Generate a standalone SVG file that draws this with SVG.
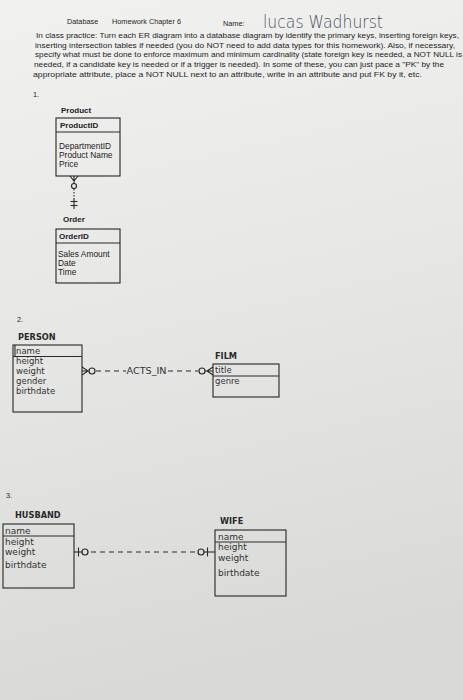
<svg xmlns="http://www.w3.org/2000/svg" width="463" height="700" viewBox="0 0 463 700">
<defs>
<linearGradient id="paper" x1="0" y1="0" x2="0.15" y2="1">
<stop offset="0" stop-color="#f1f1ef"/>
<stop offset="0.5" stop-color="#e6e6e4"/>
<stop offset="1" stop-color="#d9d9d7"/>
</linearGradient>
<style>
.hd{font-family:"Liberation Sans",Arial,sans-serif;font-size:7.3px;fill:#1f1f1f}
.hand{font-family:"DejaVu Sans",sans-serif;font-weight:200;font-size:17px;fill:#4b5060}
.box{fill:none;stroke:#262626;stroke-width:1.1}
.t1{font-family:"Liberation Sans",Arial,sans-serif;font-size:8.4px;fill:#222}
.t1b{font-family:"Liberation Sans",Arial,sans-serif;font-size:8px;font-weight:bold;fill:#222}
.t2{font-family:"DejaVu Sans",Verdana,sans-serif;font-size:8.5px;fill:#333}
.t3{font-family:"DejaVu Sans",Verdana,sans-serif;font-size:9px;fill:#333}
.lbl{font-family:"DejaVu Sans",Verdana,sans-serif;font-size:8.2px;font-weight:bold;fill:#2a2a2a}
.ln{fill:none;stroke:#2a2a2a;stroke-width:1.1}
.dash{fill:none;stroke:#2a2a2a;stroke-width:1.2;stroke-dasharray:5 4}
.circ{fill:none;stroke:#2a2a2a;stroke-width:1.2}
</style>
</defs>
<rect x="0" y="0" width="463" height="700" fill="url(#paper)"/>

<g id="header">
<text class="hd" x="67" y="24">Database</text>
<text class="hd" x="112" y="24">Homework Chapter 6</text>
<text class="hd" x="223" y="26">Name:</text>
<text class="hand" x="263" y="28" textLength="120" lengthAdjust="spacingAndGlyphs">lucas Wadhurst</text>
<text class="hd" x="36" y="38" textLength="423" lengthAdjust="spacingAndGlyphs">In class practice:  Turn each ER diagram into a database diagram by identify the primary keys, inserting foreign keys,</text>
<text class="hd" x="35" y="47.7" textLength="420" lengthAdjust="spacingAndGlyphs">inserting intersection tables if needed (you do NOT need to add data types for this homework).  Also, if necessary,</text>
<text class="hd" x="35" y="57.4" textLength="427" lengthAdjust="spacingAndGlyphs">specify what must be done to enforce maximum and minimum cardinality (state foreign key is needed, a NOT NULL is</text>
<text class="hd" x="34" y="67.1" textLength="410" lengthAdjust="spacingAndGlyphs">needed, if a candidate key is needed or if a trigger is needed).  In some of these, you can just pace a "PK" by the</text>
<text class="hd" x="33" y="76.8" textLength="389" lengthAdjust="spacingAndGlyphs">appropriate attribute, place a NOT NULL next to an attribute, write in an attribute and put FK by it, etc.</text>
<text class="hd" x="33" y="97">1.</text>
<text class="hd" x="17" y="322">2.</text>
<text class="hd" x="6" y="498">3.</text>
</g>

<g id="product">
<text class="t1b" x="61" y="113">Product</text>
<rect class="box" x="56" y="118" width="64" height="58"/>
<line class="ln" x1="56" y1="132" x2="120" y2="132"/>
<text class="t1b" x="60" y="128">ProductID</text>
<text class="t1" x="59" y="149">DepartmentID</text>
<text class="t1" x="59" y="158">Product Name</text>
<text class="t1" x="59" y="167">Price</text>
</g>

<g id="order">
<text class="t1b" x="63" y="222">Order</text>
<rect class="box" x="56" y="229" width="64" height="54"/>
<line class="ln" x1="56" y1="243" x2="120" y2="243"/>
<text class="t1b" x="59" y="239">OrderID</text>
<text class="t1" x="58" y="257">Sales Amount</text>
<text class="t1" x="58" y="266">Date</text>
<text class="t1" x="58" y="275">Time</text>
</g>

<g id="person">
<text class="lbl" x="18" y="340">PERSON</text>
<rect class="box" x="13" y="345" width="69" height="67"/>
<line class="ln" x1="13" y1="356.5" x2="82" y2="356.5"/>
<line class="ln" x1="15" y1="345" x2="15" y2="356.5"/>
<text class="t2" x="16" y="354">name</text>
<text class="t2" x="16" y="364">height</text>
<text class="t2" x="16" y="374">weight</text>
<text class="t2" x="16" y="384">gender</text>
<text class="t2" x="16" y="394">birthdate</text>
</g>

<g id="film">
<text class="lbl" x="215" y="359">FILM</text>
<rect class="box" x="213" y="364" width="66" height="33"/>
<line class="ln" x1="213" y1="376" x2="279" y2="376"/>
<text class="t2" x="215" y="373">title</text>
<text class="t2" x="215" y="384">genre</text>
</g>

<g id="husband">
<text class="lbl" x="15" y="518">HUSBAND</text>
<rect class="box" x="3" y="524" width="71" height="64"/>
<line class="ln" x1="3" y1="536" x2="74" y2="536"/>
<text class="t3" x="5" y="534">name</text>
<text class="t3" x="5" y="545">height</text>
<text class="t3" x="5" y="555">weight</text>
<text class="t3" x="5" y="568">birthdate</text>
</g>

<g id="wife">
<text class="lbl" x="220" y="524">WIFE</text>
<rect class="box" x="215" y="530" width="71" height="66"/>
<line class="ln" x1="215" y1="542" x2="286" y2="542"/>
<text class="t3" x="218" y="540">name</text>
<text class="t3" x="218" y="550">height</text>
<text class="t3" x="218" y="561">weight</text>
<text class="t3" x="218" y="576">birthdate</text>
</g>

<g id="connectors">
<path class="ln" d="M70 176 L74 181 L78 176 M74 176 L74 183.5"/>
<circle class="circ" cx="74" cy="186" r="2.5"/>
<line class="ln" x1="74" y1="189" x2="74" y2="199" stroke-dasharray="1.5 1.5"/>
<line class="ln" x1="74" y1="199" x2="74" y2="209"/>
<line class="ln" x1="70.5" y1="201.5" x2="77.5" y2="201.5"/>
<line class="ln" x1="70.5" y1="205.5" x2="77.5" y2="205.5"/>
<path class="ln" d="M82 367 L88 371 L82 375 M82 371 L89 371"/>
<circle class="circ" cx="92" cy="371" r="3"/>
<line class="dash" x1="96" y1="371" x2="126" y2="371"/>
<text class="t2" x="126.5" y="374" textLength="40" lengthAdjust="spacingAndGlyphs">ACTS_IN</text>
<line class="dash" x1="168" y1="371" x2="198" y2="371" stroke-dasharray="4 4 5"/>
<circle class="circ" cx="202" cy="371" r="3"/>
<path class="ln" d="M213 367 L207 371 L213 375 M205 371 L213 371"/>
<line class="ln" x1="74" y1="552" x2="82" y2="552"/>
<line class="ln" x1="78.5" y1="547.5" x2="78.5" y2="556.5"/>
<circle class="circ" cx="85" cy="552" r="3"/>
<line class="dash" x1="91" y1="552" x2="196" y2="552" stroke-dasharray="6 5"/>
<circle class="circ" cx="201" cy="552" r="3"/>
<line class="ln" x1="204" y1="552" x2="215" y2="552"/>
<line class="ln" x1="207.5" y1="547.5" x2="207.5" y2="556.5"/>
</g>
</svg>
